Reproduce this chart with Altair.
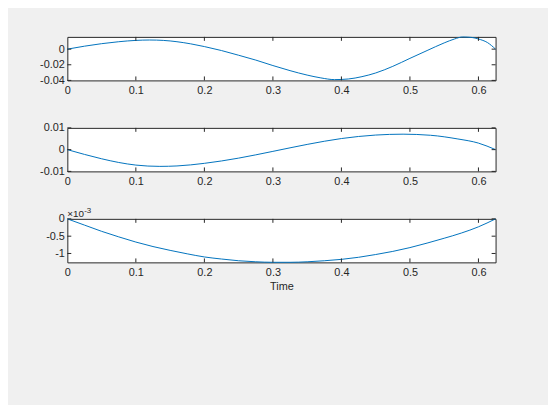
import altair as alt
import pandas as pd

# ---- data ----
T1 = [0, 0.025, 0.05, 0.075, 0.1, 0.12, 0.14, 0.16, 0.18, 0.2, 0.225, 0.25, 0.275,
      0.3, 0.325, 0.35, 0.37, 0.39, 0.41, 0.43, 0.45, 0.475, 0.5, 0.525, 0.55,
      0.565, 0.577, 0.59, 0.6, 0.613, 0.625]
V1 = [0, 0.0038, 0.0070, 0.0095, 0.0112, 0.0117, 0.0112, 0.0095, 0.0068, 0.0033,
      -0.0018, -0.0078, -0.0140, -0.0210, -0.0275, -0.0332, -0.0368, -0.0390,
      -0.0382, -0.0352, -0.0305, -0.0220, -0.0118, -0.0018, 0.0080, 0.0130,
      0.0156, 0.0150, 0.0130, 0.0085, 0.0]

T2 = [0, 0.025, 0.05, 0.075, 0.1, 0.135, 0.16, 0.2, 0.25, 0.3, 0.35, 0.4, 0.45,
      0.49, 0.53, 0.57, 0.6, 0.625]
V2 = [0, -0.0022, -0.0042, -0.0059, -0.0071, -0.0077, -0.0075, -0.0063, -0.0039,
      -0.0008, 0.0024, 0.0051, 0.0067, 0.0071, 0.0066, 0.0049, 0.0030, 0.0]

T3 = [0, 0.025, 0.05, 0.075, 0.1, 0.125, 0.15, 0.175, 0.2, 0.225, 0.25, 0.275,
      0.3, 0.325, 0.35, 0.375, 0.4, 0.425, 0.45, 0.475, 0.5, 0.525, 0.55, 0.575,
      0.6, 0.625]
V3 = [0, -0.18, -0.36, -0.52, -0.67, -0.80, -0.91, -1.01, -1.10, -1.16, -1.21,
      -1.24, -1.255, -1.255, -1.24, -1.21, -1.17, -1.11, -1.03, -0.94, -0.83,
      -0.70, -0.56, -0.41, -0.23, 0.0]  # in units of 1e-3

X_DOMAIN = [0, 0.625]
X_TICKS = [0, 0.1, 0.2, 0.3, 0.4, 0.5, 0.6]
Y1_DOMAIN = [-0.04, 0.0157]
Y1_TICKS = [-0.04, -0.02, 0]
Y2_DOMAIN = [-0.01, 0.01]
Y2_TICKS = [-0.01, 0, 0.01]
Y3_DOMAIN = [-1.257, 0]
Y3_TICKS = [-1, -0.5, 0]
EXP_BASE = ["×10"]
EXP_POWER = ["-3"]
X_TITLE = "Time"

LINE = "#0072BD"
INK = "#262626"
W, H = 433, 44
TL = 4  # inner tick length
FS = 11


def panel(ts, vs, ydom, yticks, xtitle=None, extra=None):
    df = pd.DataFrame({"t": ts, "v": vs})
    if xtitle:
        xaxis = alt.Axis(values=X_TICKS, labelExpr="'' + datum.value", labelPadding=4,
                         labelFlush=False, labelOverlap=False, title=xtitle, titlePadding=3)
    else:
        xaxis = alt.Axis(values=X_TICKS, labelExpr="'' + datum.value", labelPadding=4,
                         labelFlush=False, labelOverlap=False, title=None)
    yaxis = alt.Axis(values=yticks, labelExpr="'' + datum.value", labelPadding=3,
                     labelFlush=False, labelOverlap=False, title=None)
    xs = alt.Scale(domain=X_DOMAIN, nice=False, zero=False)
    ys = alt.Scale(domain=ydom, nice=False, zero=False)
    x = alt.X("t:Q", scale=xs, axis=xaxis)
    y = alt.Y("v:Q", scale=ys, axis=yaxis)
    line = alt.Chart(df).mark_line(color=LINE, strokeWidth=1, interpolate="monotone").encode(x=x, y=y)

    xt = pd.DataFrame({"t": X_TICKS[1:]})
    yt = pd.DataFrame({"v": yticks})
    tx_top = alt.Chart(xt).mark_rule(color=INK, strokeWidth=1).encode(
        x=alt.X("t:Q", scale=xs, axis=xaxis), y=alt.value(0), y2=alt.value(TL))
    tx_bot = alt.Chart(xt).mark_rule(color=INK, strokeWidth=1).encode(
        x=alt.X("t:Q", scale=xs, axis=xaxis), y=alt.value(H - TL), y2=alt.value(H))
    ty_l = alt.Chart(yt).mark_rule(color=INK, strokeWidth=1).encode(
        y=alt.Y("v:Q", scale=ys, axis=yaxis), x=alt.value(0), x2=alt.value(TL))
    ty_r = alt.Chart(yt).mark_rule(color=INK, strokeWidth=1).encode(
        y=alt.Y("v:Q", scale=ys, axis=yaxis), x=alt.value(W - TL), x2=alt.value(W))
    layers = [line, tx_top, tx_bot, ty_l, ty_r]
    if extra:
        layers += extra
    return alt.layer(*layers).properties(width=W, height=H)


exp1 = alt.Chart(pd.DataFrame({"s": EXP_BASE})).mark_text(
    align="left", baseline="alphabetic", fontSize=10, color=INK, font="Liberation Sans"
).encode(x=alt.value(0), y=alt.value(-2), text="s:N")
exp2 = alt.Chart(pd.DataFrame({"s": EXP_POWER})).mark_text(
    align="left", baseline="alphabetic", fontSize=8, color=INK, font="Liberation Sans"
).encode(x=alt.value(17), y=alt.value(-6), text="s:N")

p1 = panel(T1, V1, Y1_DOMAIN, Y1_TICKS)
p2 = panel(T2, V2, Y2_DOMAIN, Y2_TICKS)
p3 = panel(T3, V3, Y3_DOMAIN, Y3_TICKS, xtitle=X_TITLE, extra=[exp1, exp2])

chart = alt.vconcat(p1, p2, p3, spacing=48, bounds="flush").properties(
    background="#f0f0f0",
    padding={"left": 31, "top": 24, "right": 50, "bottom": 112},
).configure_view(
    stroke=INK, strokeWidth=1, fill="white"
).configure_axis(
    domain=False, ticks=False, grid=False, labelOverlap=False, labelFlush=False,
    labelFont="Liberation Sans", labelFontSize=FS, labelColor=INK,
    titleFont="Liberation Sans", titleFontSize=11, titleFontWeight="normal", titleColor=INK,
)

chart.save("out.html", embed_options={"renderer": "svg", "actions": False})
